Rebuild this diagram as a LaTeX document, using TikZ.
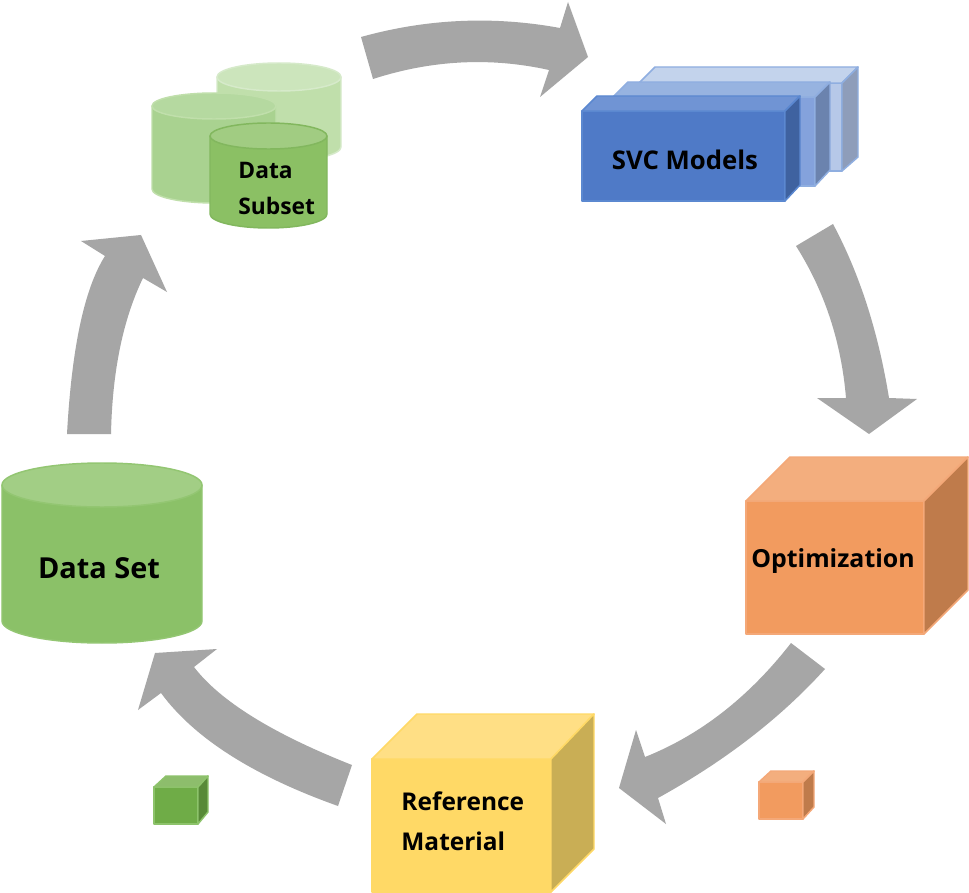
\documentclass[tikz,border=0pt]{standalone}
\usepackage{fontspec}
\setmainfont{Open Sans}
\definecolor{Cycle}{HTML}{A6A6A6}
\definecolor{GreenBody}{HTML}{8BC168}
\definecolor{GreenTop}{HTML}{A2CE85}
\definecolor{GreenEdge}{HTML}{93C672}
\definecolor{PaleBody}{HTML}{C0DFAB}
\definecolor{PaleTop}{HTML}{CCE5BC}
\definecolor{PaleEdge}{HTML}{D6EACA}
\definecolor{MidBody}{HTML}{A9D290}
\definecolor{MidTop}{HTML}{B5D9A0}
\definecolor{MidEdge}{HTML}{C0DFAB}
\definecolor{SubsetBody}{HTML}{8BC064}
\definecolor{SubsetTop}{HTML}{A1CC82}
\definecolor{SubsetEdge}{HTML}{82B75E}
\definecolor{BlueFront}{HTML}{4F7AC7}
\definecolor{BlueTop}{HTML}{7094D4}
\definecolor{BlueSide}{HTML}{3F62A0}
\definecolor{BlueEdge}{HTML}{5B88D0}
\definecolor{SkyFront}{HTML}{84A2DC}
\definecolor{SkyTop}{HTML}{97B3E0}
\definecolor{SkySide}{HTML}{6B83AE}
\definecolor{IceFront}{HTML}{B6C8E8}
\definecolor{IceTop}{HTML}{C3D3EC}
\definecolor{IceSide}{HTML}{8E9DBA}
\definecolor{IceEdge}{HTML}{8FAEE0}
\definecolor{OrangeFront}{HTML}{F29B5F}
\definecolor{OrangeTop}{HTML}{F3AE7E}
\definecolor{OrangeSide}{HTML}{BF7B4B}
\definecolor{OrangeEdge}{HTML}{F4A878}
\definecolor{YellowFront}{HTML}{FFD966}
\definecolor{YellowTop}{HTML}{FFDF85}
\definecolor{YellowSide}{HTML}{C9AE55}
\definecolor{LeafFront}{HTML}{6FAC47}
\definecolor{LeafTop}{HTML}{8DBD6C}
\definecolor{LeafSide}{HTML}{588A38}
\definecolor{LeafEdge}{HTML}{8DC36B}
\tikzset{
  cycleArrow/.style={fill=Cycle,draw=none},
  face/.style={line width=.7pt,line join=round},
  label/.style={font=\bfseries,text=black,inner sep=0pt,align=left}
}
\begin{document}
\begin{tikzpicture}[x=.0166667cm,y=-.0166667cm]
  \useasboundingbox (0,0) rectangle (969,893);
  \fill[white] (0,0) rectangle (969,893);
  \fill[cycleArrow] (361,37) .. controls (426.7,18.7) and (493,15.7) .. (560,28) -- (568,2) -- (588,57) -- (540,97) -- (549,70) .. controls (490.3,57) and (431.7,60) .. (373,79) -- cycle;
  \fill[cycleArrow] (833,224) .. controls (859.7,274) and (878.3,332) .. (889,398) -- (917,399) -- (869,434) -- (817,398) -- (846,398) .. controls (841.3,342) and (824.7,291.3) .. (796,246) -- cycle;
  \fill[cycleArrow] (825,669) .. controls (780.7,718) and (725,761) .. (658,798) -- (666,824) -- (619,788) -- (636,730) -- (645,757) .. controls (700.3,735) and (749,697) .. (791,643) -- cycle;
  \fill[cycleArrow] (352,765) .. controls (272.7,733.7) and (220,701) .. (194,667) -- (217,649) -- (155,653) -- (138,710) -- (161,693) .. controls (194,738) and (253,775.7) .. (338,806) -- cycle;
  \fill[cycleArrow] (67,434) .. controls (71.7,348) and (84.3,288.7) .. (105,256) -- (81,241) -- (141,235) -- (167,292) -- (143,278) .. controls (123,319.3) and (112.3,371.3) .. (111,434) -- cycle;
  \draw[face,draw=GreenEdge,fill=GreenBody] (2,485) -- (2,621) arc[start angle=180,end angle=0,x radius=100,y radius=22] -- (202,485) -- cycle;
  \draw[face,draw=GreenEdge,fill=GreenTop] (102,485) ellipse (100 and 22);
  \node[label,font=\bfseries\fontsize{13.7}{16}\selectfont] (dataset) at (99,568) {Data Set};
  \draw[face,draw=PaleEdge,fill=PaleBody] (217,77) -- (217,147) arc[start angle=180,end angle=0,x radius=62,y radius=14] -- (341,77) -- cycle;
  \draw[face,draw=PaleEdge,fill=PaleTop] (279,77) ellipse (62 and 14);
  \draw[face,draw=MidEdge,fill=MidBody] (152,106) -- (152,189) arc[start angle=180,end angle=0,x radius=62,y radius=14] -- (276,106) -- cycle;
  \draw[face,draw=MidEdge,fill=MidTop] (214,106) ellipse (62 and 13);
  \draw[face,draw=SubsetEdge,fill=SubsetBody] (210,136) -- (210,214) arc[start angle=180,end angle=0,x radius=58.5,y radius=14] -- (327,136) -- cycle;
  \draw[face,draw=SubsetEdge,fill=SubsetTop] (268.5,136) ellipse (58.5 and 13);
  \node[label,anchor=west,font=\bfseries\fontsize{10.8}{17.5}\selectfont] (datasubset) at (238,188.5) {Data\\Subset};
  \draw[face,draw=IceEdge,fill=IceFront] (639,83) rectangle (842,171);
  \draw[face,draw=IceEdge,fill=IceTop] (639,83) -- (655,67) -- (858,67) -- (842,83) -- cycle;
  \draw[face,draw=IceEdge,fill=IceSide] (842,83) -- (858,67) -- (858,157) -- (842,171) -- cycle;
  \draw[face,draw=IceEdge,fill=SkyFront] (613,97) rectangle (815,186);
  \draw[face,draw=IceEdge,fill=SkyTop] (613,97) -- (628,82) -- (830,82) -- (815,97) -- cycle;
  \draw[face,draw=IceEdge,fill=SkySide] (815,97) -- (830,82) -- (830,170) -- (815,186) -- cycle;
  \draw[face,draw=BlueEdge,fill=BlueFront] (582,111) rectangle (785,201);
  \draw[face,draw=BlueEdge,fill=BlueTop] (582,111) -- (597,96) -- (800,96) -- (785,111) -- cycle;
  \draw[face,draw=BlueEdge,fill=BlueSide] (785,111) -- (800,96) -- (800,185) -- (785,201) -- cycle;
  \node[label,font=\bfseries\fontsize{12.2}{15}\selectfont] (svcmodels) at (685,160) {SVC Models};
  \draw[face,draw=OrangeEdge,fill=OrangeFront] (746,501) rectangle (924,634);
  \draw[face,draw=OrangeEdge,fill=OrangeTop] (746,501) -- (790,457) -- (968,457) -- (924,501) -- cycle;
  \draw[face,draw=OrangeEdge,fill=OrangeSide] (924,501) -- (968,457) -- (968,590) -- (924,634) -- cycle;
  \node[label,font=\bfseries\fontsize{11.8}{15}\selectfont] (optimization) at (833,561.5) {Optimization};
  \draw[face,draw=YellowFront,fill=YellowFront] (372,759) rectangle (551,892);
  \draw[face,draw=YellowFront,fill=YellowTop] (372,759) -- (417,714) -- (594,714) -- (551,759) -- cycle;
  \draw[face,draw=YellowFront,fill=YellowSide] (551,759) -- (594,714) -- (594,849) -- (551,892) -- cycle;
  \node[label,anchor=west,font=\bfseries\fontsize{11.6}{18.9}\selectfont] (refmaterial) at (401,821) {Reference\\Material};
  \draw[face,draw=OrangeEdge,fill=OrangeFront] (759,782) rectangle (803,819);
  \draw[face,draw=OrangeEdge,fill=OrangeTop] (759,782) -- (771,771) -- (814,771) -- (803,782) -- cycle;
  \draw[face,draw=OrangeEdge,fill=OrangeSide] (803,782) -- (814,771) -- (814,807) -- (803,819) -- cycle;
  \draw[face,draw=LeafEdge,fill=LeafFront] (154,787) rectangle (198,824);
  \draw[face,draw=LeafEdge,fill=LeafTop] (154,787) -- (166,776) -- (208,776) -- (198,787) -- cycle;
  \draw[face,draw=LeafEdge,fill=LeafSide] (198,787) -- (208,776) -- (208,812) -- (198,824) -- cycle;
\end{tikzpicture}
\end{document}
